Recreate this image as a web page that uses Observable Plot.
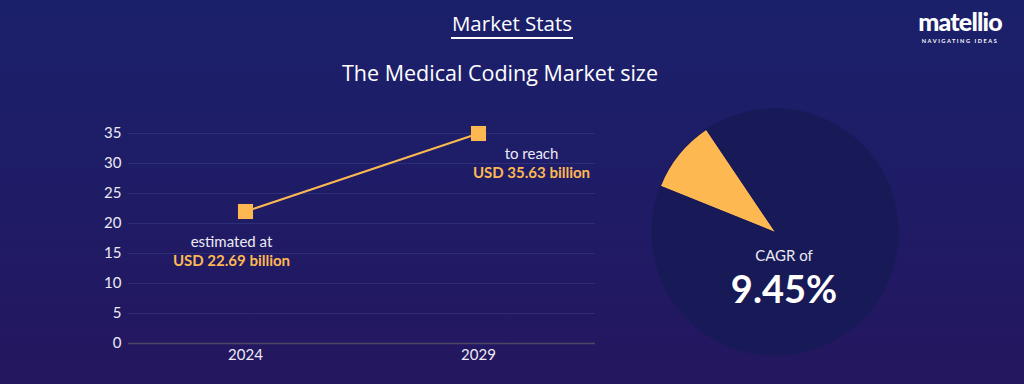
<!DOCTYPE html>
<html>
<head>
<meta charset="utf-8">
<script src="https://cdn.jsdelivr.net/npm/d3@7"></script>
<script src="https://cdn.jsdelivr.net/npm/@observablehq/plot@0.6"></script>
<style>
  html, body { margin: 0; padding: 0; }
  body { width: 1024px; height: 384px; overflow: hidden; font-family: Lato, "Open Sans", sans-serif; }
  #wrap { position: relative; width: 1024px; height: 384px;
    background: linear-gradient(180deg, #1b206b 0%, #1f1c66 50%, #24165f 100%); }
  #chart { position: absolute; left: 0; top: 0; }
  .title { position: absolute; left: 0; width: 1024px; text-align: center; color: #fff; font-family: "Open Sans", Lato, sans-serif; }
  #t1 { top: 9px; font-size: 20.5px; }
  #t1 span { border-bottom: 2px solid #fff; padding: 0 1px 0 1px; }
  #t2 { top: 58px; font-size: 21.5px; left: -12px; }
  #logo { position: absolute; left: 914px; top: 9px; width: 92px; color: #fff; text-align: center; }
  #logo .name { font-size: 25px; font-weight: 900; letter-spacing: -0.8px; line-height: 25px; height: 25px; }
  #logo .tag { margin-top: 3px; font-size: 5.6px; font-weight: 700; letter-spacing: 1.55px; line-height: 7px; white-space: nowrap; }
</style>
</head>
<body>
<div id="wrap">
  <div id="chart"></div>
  <div class="title" id="t1"><span>Market Stats</span></div>
  <div class="title" id="t2">The Medical Coding Market size</div>
  <div id="logo"><div class="name">matellio</div><div class="tag">NAVIGATING IDEAS</div></div>
</div>
<script>
// ---- data ----
const years = ["2024", "2029"];
const marketSize = [22, 35];
const labelTop = ["estimated at", "to reach"];
const labelValue = ["USD 22.69 billion", "USD 35.63 billion"];
const yTicks = [0, 5, 10, 15, 20, 25, 30, 35];
const pieLabels = ["CAGR", "rest"];
const pieShares = [9.45, 90.55];
const cagrTitle = "CAGR of";
const cagrValue = "9.45%";

// ---- styles ----
const orange = "#fdb852";
const textCol = "#eceaf5";
const pieBase = "#181a57";

const rows = years.map((y, i) => ({year: y, value: marketSize[i], top: labelTop[i], val: labelValue[i]}));

function pieMark(index, scales, values, dimensions) {
  const {width, marginRight} = dimensions;
  const cx = width - marginRight + 180;
  const cy = 232;
  const r = 123;
  const a0 = -68 * Math.PI / 180;
  const arcs = d3.pie().sort(null).startAngle(a0).endAngle(a0 + 2 * Math.PI)(pieShares);
  const arc = d3.arc().innerRadius(0).outerRadius(r);
  const g = d3.create("svg:g").attr("transform", `translate(${cx},${cy})`);
  g.append("circle").attr("r", r + 1).attr("fill", "#1a1b5c");
  g.selectAll("path").data(arcs).join("path")
    .attr("d", arc)
    .attr("fill", (d, i) => i === 0 ? orange : pieBase);
  g.append("text").attr("x", 9).attr("y", 29).attr("text-anchor", "middle")
    .attr("fill", textCol).attr("font-size", 15).attr("font-family", "Lato, sans-serif")
    .text(cagrTitle);
  g.append("text").attr("x", 9).attr("y", 71).attr("text-anchor", "middle")
    .attr("fill", "#ffffff").attr("font-size", 38).attr("font-weight", 700)
    .attr("font-family", "Lato, sans-serif")
    .text(cagrValue);
  return g.node();
}

const annot = (i, dx, dy1, dy2) => [
  Plot.text([rows[i]], {x: "year", y: "value", text: "top", dx, dy: dy1, fill: textCol, fontSize: 15}),
  Plot.text([rows[i]], {x: "year", y: "value", text: "val", dx, dy: dy2, fill: orange, fontSize: 15, fontWeight: 700})
];

const chart = Plot.plot({
  width: 1024,
  height: 384,
  marginTop: 133,
  marginBottom: 41,
  marginLeft: 128,
  marginRight: 429,
  style: {background: "transparent", color: textCol, fontFamily: "Lato, sans-serif", fontSize: "15px", overflow: "visible"},
  x: {type: "point", domain: years, padding: 0.5, label: null},
  y: {domain: [0, 35], label: null, ticks: yTicks},
  marks: [
    Plot.ruleY(yTicks.filter(d => d > 0), {stroke: "#3a3c86", strokeOpacity: 0.55, strokeWidth: 1}),
    Plot.ruleY([0], {stroke: "#4d4766", strokeWidth: 1.5}),
    Plot.axisY({ticks: yTicks, tickSize: 0, tickPadding: 7, fontSize: 15, fill: textCol, label: null}),
    Plot.axisX({tickSize: 0, tickPadding: 6, fontSize: 15, fill: textCol, label: null}),
    Plot.line(rows, {x: "year", y: "value", stroke: orange, strokeWidth: 2}),
    Plot.dot(rows, {x: "year", y: "value", symbol: "square", r: 8.5, fill: orange, stroke: null}),
    ...annot(0, -14, 31, 50),
    ...annot(1, 53, 21, 40),
    pieMark
  ]
});
document.getElementById("chart").appendChild(chart);
</script>
</body>
</html>
